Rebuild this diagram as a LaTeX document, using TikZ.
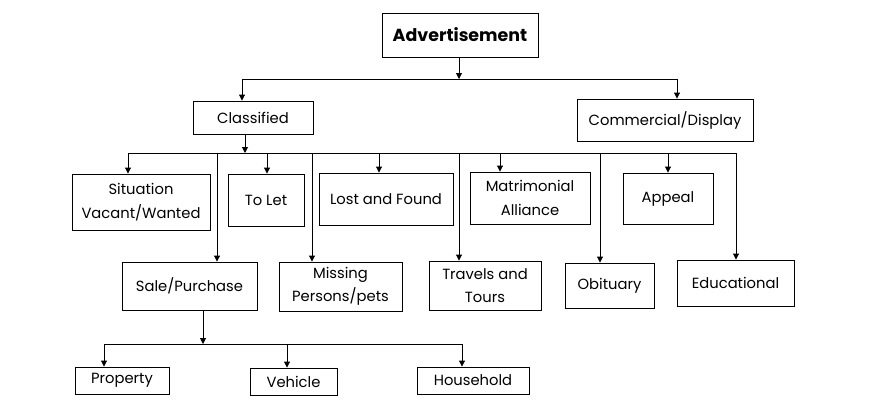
\documentclass[tikz,border=0pt]{standalone}
\usepackage{fontspec}
\setmainfont{Poppins}
\usetikzlibrary{arrows.meta}

\begin{document}
\begin{tikzpicture}[x=1bp, y=-1bp, font=\fontsize{14.8}{23.5}\selectfont,
    box/.style={draw, line width=0.9bp, inner sep=0pt, align=center},
    arr/.style={-{Triangle[length=6bp,width=6bp]}, line width=0.9bp}]
	\useasboundingbox (0,0) rectangle (889,411);

	\node[box, minimum width=156bp, minimum height=44bp, font=\fontsize{17.5}{21}\selectfont\bfseries] (adv) at (460,35) {Advertisement};
	\node[box, minimum width=120bp, minimum height=33bp] (cls) at (253,117.5) {Classified};
	\node[box, minimum width=176bp, minimum height=42bp] (com) at (665,120) {Commercial/Display};

	\node[box, minimum width=138bp, minimum height=56bp] (sit) at (141,202) {Situation\\Vacant/Wanted};
	\node[box, minimum width=76bp, minimum height=52bp] (let) at (266,200) {To Let};
	\node[box, minimum width=134bp, minimum height=52bp] (lost) at (386,199) {Lost and Found};
	\node[box, minimum width=120bp, minimum height=52bp] (mat) at (530,198) {Matrimonial\\Alliance};
	\node[box, minimum width=90bp, minimum height=51bp] (app) at (668,198.5) {Appeal};

	\node[box, minimum width=135bp, minimum height=48bp] (sale) at (189.5,286) {Sale/Purchase};
	\node[box, minimum width=123bp, minimum height=49bp] (miss) at (340.5,286.5) {Missing\\Persons/pets};
	\node[box, minimum width=112bp, minimum height=49bp] (trav) at (485,285.5) {Travels and\\Tours};
	\node[box, minimum width=89bp, minimum height=45bp] (obit) at (609.5,285.5) {Obituary};
	\node[box, minimum width=117bp, minimum height=46bp] (edu) at (735.5,283) {Educational};

	\node[box, minimum width=94bp, minimum height=27bp] (prop) at (122,380.5) {Property};
	\node[box, minimum width=87bp, minimum height=27bp] (veh) at (293.5,381.5) {Vehicle};
	\node[box, minimum width=112bp, minimum height=27bp] (hou) at (473,380.5) {Household};

	% top level
	\coordinate (j0) at (459,79);
	\coordinate (bcls) at (242,79);
	\coordinate (bcom) at (677,79);
	\draw[arr] (j0 |- adv.south) -- (j0);
	\draw[line width=0.9bp] (bcls) -- (bcom);
	\draw[arr] (bcls) -- (bcls |- cls.north);
	\draw[arr] (bcom) -- (bcom |- com.north);

	% classified
	\coordinate (j1) at (245,153);
	\draw[arr] (j1 |- cls.south) -- (j1);
	\foreach \x/\n in {128/sit,217/sale,267/let,312/miss,379/lost,459/trav,500/mat,600/obit,668/app,736/edu}{
		\coordinate (b\n) at (\x,153);
		\draw[arr] (b\n) -- (b\n |- \n.north);
	}
	\draw[line width=0.9bp] (bsit) -- (bedu);

	% sale/purchase
	\coordinate (j2) at (203,344);
	\draw[arr] (j2 |- sale.south) -- (j2);
	\foreach \x/\n in {104/prop,287/veh,462/hou}{
		\coordinate (b\n) at (\x,344);
		\draw[arr] (b\n) -- (b\n |- \n.north);
	}
	\draw[line width=0.9bp] (bprop) -- (bhou);
\end{tikzpicture}
\end{document}
